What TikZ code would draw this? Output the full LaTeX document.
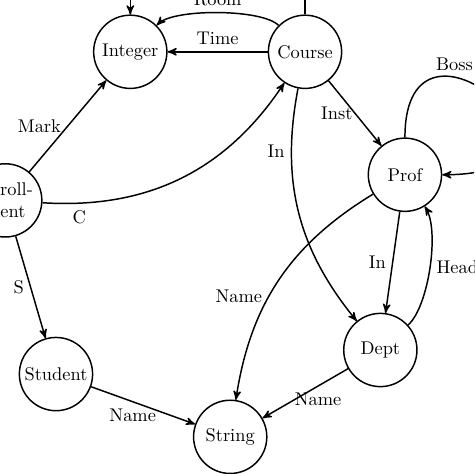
\documentclass[tikz,border=0pt]{standalone}
\usetikzlibrary{arrows}
\begin{document}
\begin{tikzpicture}[>=stealth', thick,
  state/.style={draw,circle,minimum size=1.4cm,inner sep=0pt}]
\clip (0,0) rectangle (9.06,9.06);
\node[state] (integer) at (2.49,8.07) {Integer};
\node[state] (course) at (5.83,8.07) {Course};
\node[state,align=center] (enroll) at (0.10,5.23) {Enroll-\\ment};
\node[state] (prof) at (7.74,5.72) {Prof};
\node[state] (dept) at (7.27,2.37) {Dept};
\node[state] (student) at (1.07,1.91) {Student};
\node[state] (string) at (4.40,0.71) {String};
\coordinate (intup) at (2.49,10);
\coordinate (courseup) at (5.83,10);
\draw[->] (intup) -- (integer);
\draw (course) -- (courseup);
\draw[->] (course) -- node[above] {Time} (integer);
\draw[->] (course) to[bend right=45,looseness=0.5] node[above] {Room} (integer);
\draw[->] (enroll) -- node[left] {Mark} (integer);
\draw[->] (enroll) to[bend right=30] node[pos=0.12,below] {C} (course);
\draw[->] (enroll) -- node[left] {S} (student);
\draw[->] (course) -- node[left,inner sep=1pt] {Inst} (prof);
\draw[->] (course) to[bend right=25] node[pos=0.24,left] {In} (dept);
\draw[->] (prof) -- node[left] {In} (dept);
\draw[->] (dept) to[bend right=40,looseness=0.6] node[right] {Head} (prof);
\draw[->] (prof.north) .. controls +(0,3) and +(3.5,0) .. (prof.east) node[pos=0.33,above] {Boss};
\draw[->] (prof) to[bend right=25] node[pos=0.58,left] {Name} (string);
\draw[->] (student) -- node[pos=0.4,below] {Name} (string);
\draw[->] (dept) -- node[pos=0.35,below] {Name} (string);
\end{tikzpicture}
\end{document}
